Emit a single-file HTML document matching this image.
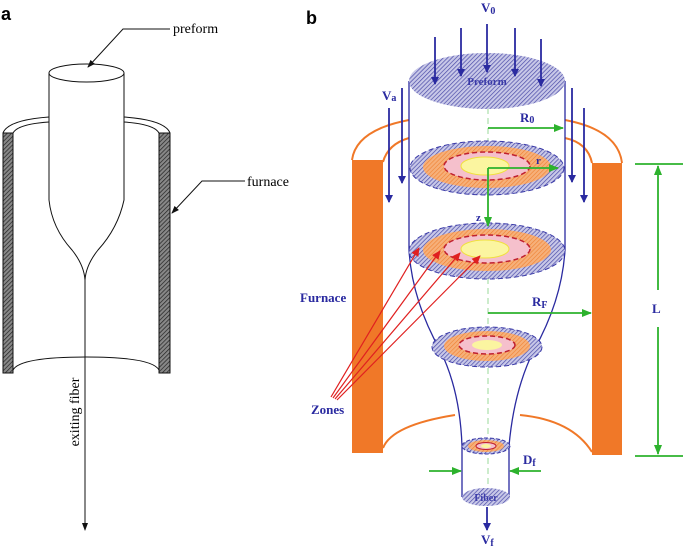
<!DOCTYPE html>
<html><head><style>body{margin:0;background:#fff}svg{display:block}</style></head><body>
<svg width="685" height="549" viewBox="0 0 685 549" xmlns="http://www.w3.org/2000/svg">
<defs>
<pattern id="hb" width="3" height="3" patternUnits="userSpaceOnUse" patternTransform="rotate(45)"><rect width="3" height="3" fill="#c8c8e8"/><line x1="0" y1="0" x2="0" y2="3" stroke="#4a4aa8" stroke-width="1.4"/></pattern>
<pattern id="ho" width="3" height="3" patternUnits="userSpaceOnUse" patternTransform="rotate(45)"><rect width="3" height="3" fill="#f6b07a"/><line x1="0" y1="0" x2="0" y2="3" stroke="#f08030" stroke-width="1.2"/></pattern>
<pattern id="hk" width="3" height="3" patternUnits="userSpaceOnUse" patternTransform="rotate(45)"><rect width="3" height="3" fill="#888"/><line x1="0" y1="0" x2="0" y2="3" stroke="#222" stroke-width="1.4"/></pattern>
<marker id="ak" markerWidth="8" markerHeight="8" refX="7" refY="4" orient="auto" markerUnits="userSpaceOnUse"><path d="M0,1 L8,4 L0,7z" fill="#111"/></marker>
<marker id="ab" markerWidth="8" markerHeight="10" refX="7" refY="5" orient="auto" markerUnits="userSpaceOnUse"><path d="M0,1 L8,5 L0,9z" fill="#2a2aa0"/></marker>
<marker id="ag" markerWidth="10" markerHeight="8" refX="9" refY="4" orient="auto" markerUnits="userSpaceOnUse"><path d="M0,0 L10,4 L0,8z" fill="#2db22d"/></marker>
<marker id="ar" markerWidth="9" markerHeight="8" refX="8" refY="4" orient="auto" markerUnits="userSpaceOnUse"><path d="M0,0 L9,4 L0,8z" fill="#e02020"/></marker>
</defs>
<!-- Panel a -->
<text x="1" y="20" font-family="Liberation Sans" font-weight="bold" font-size="18">a</text>
<g stroke="#111" fill="none" stroke-width="1">
<rect x="3" y="133" width="10" height="240" fill="url(#hk)"/>
<rect x="159" y="133" width="11" height="240" fill="url(#hk)"/>
<path d="M3,133 Q8,120 49,117 M13,133 Q18,124 49,122 M124,117 Q165,120 170,133 M124,122 Q154,124 159,133"/>
<path d="M13,370 Q20,357 86,357 Q152,357 159,370"/>
<ellipse cx="86.5" cy="73" rx="37.5" ry="9" fill="#fff"/>
<path d="M49,73 L49,200 Q52,228 72,250 Q84,265 85,280 Q86,265 98,250 Q118,228 124,200 L124,73"/>
<line x1="85" y1="280" x2="85" y2="530" marker-end="url(#ak)"/>
<path d="M170,29 L123,29 L88,67" marker-end="url(#ak)"/>
<path d="M245,181 L202,181 L172,213" marker-end="url(#ak)"/>
</g>
<rect x="64" y="368" width="20" height="84" fill="#fff"/>
<line x1="85" y1="370" x2="85" y2="450" stroke="#111"/>
<text transform="translate(79,412) rotate(-90)" text-anchor="middle" font-family="Liberation Serif" font-size="14">exiting fiber</text>
<text x="173" y="33" font-family="Liberation Serif" font-size="14">preform</text>
<text x="247" y="186" font-family="Liberation Serif" font-size="14">furnace</text>
<!-- Panel b -->
<text x="306" y="24" font-family="Liberation Sans" font-weight="bold" font-size="18">b</text>
<!-- furnace -->
<g stroke="#f07828" stroke-width="2" fill="none">
<path d="M352,160 Q356,130 409,120 M383,162 Q388,144 409,138 M565,120 Q618,130 622,163 M565,138 Q588,143 592,163"/>
<path d="M383,448 Q392,425 455,415 M520,415 Q572,420 592,452"/>
</g>
<rect x="352" y="160" width="31" height="293" fill="#f07828"/>
<rect x="592" y="163" width="30" height="292" fill="#f07828"/>
<!-- body -->
<g stroke="#2a2aa0" stroke-width="1.3" fill="none">
<path d="M409,81 L409,250 Q412,300 440,350 Q460,390 462,446 L462,497"/>
<path d="M565,81 L565,250 Q562,300 534,350 Q514,390 509,446 L509,497"/>
</g>
<line x1="488" y1="108" x2="488" y2="500" stroke="#9ada9a" stroke-dasharray="6,4"/>
<ellipse cx="487" cy="81" rx="78" ry="28" fill="url(#hb)"/>
<text x="487" y="85" text-anchor="middle" font-family="Liberation Serif" font-weight="bold" font-size="11" fill="#3a3aa8">Preform</text>
<g id="d">
<ellipse cx="487" cy="168" rx="77" ry="27" fill="url(#hb)" stroke="#3a3aa8" stroke-dasharray="5,3"/>
<ellipse cx="487" cy="167" rx="64" ry="21" fill="url(#ho)"/>
<ellipse cx="487" cy="166" rx="43" ry="14" fill="#f5c0cc" stroke="#c02030" stroke-dasharray="5,3" stroke-width="1.5"/>
<ellipse cx="485" cy="166" rx="24" ry="9" fill="#fbf5a0" stroke="#f0e040"/>
</g>
<g transform="translate(0,83)">
<ellipse cx="487" cy="168" rx="78" ry="28" fill="url(#hb)" stroke="#3a3aa8" stroke-dasharray="5,3"/>
<ellipse cx="487" cy="167" rx="64" ry="21" fill="url(#ho)"/>
<ellipse cx="487" cy="166" rx="43" ry="14" fill="#f5c0cc" stroke="#c02030" stroke-dasharray="5,3" stroke-width="1.5"/>
<ellipse cx="485" cy="166" rx="24" ry="9" fill="#fbf5a0" stroke="#f0e040"/>
</g>
<g>
<ellipse cx="487" cy="347" rx="55" ry="20" fill="url(#hb)" stroke="#3a3aa8" stroke-dasharray="5,3"/>
<ellipse cx="487" cy="346" rx="43" ry="15" fill="url(#ho)"/>
<ellipse cx="487" cy="345" rx="28" ry="9" fill="#f5c0cc" stroke="#c02030" stroke-dasharray="5,3" stroke-width="1.5"/>
<ellipse cx="487" cy="345" rx="15" ry="5" fill="#fbf5a0"/>
</g>
<g>
<ellipse cx="486" cy="446" rx="24" ry="8" fill="url(#hb)" stroke="#3a3aa8" stroke-dasharray="4,2"/>
<ellipse cx="486" cy="446" rx="18" ry="6" fill="url(#ho)"/>
<ellipse cx="486" cy="446" rx="10" ry="3.5" fill="#f5c0cc" stroke="#c02030"/>
<ellipse cx="486" cy="446" rx="5" ry="2" fill="#fbf5a0"/>
</g>
<ellipse cx="486" cy="497" rx="24" ry="9" fill="url(#hb)"/>
<text x="486" y="501" text-anchor="middle" font-family="Liberation Serif" font-weight="bold" font-size="10" fill="#3a3aa8">Fiber</text>
<!-- blue arrows -->
<g stroke="#2a2aa0" stroke-width="1.8" marker-end="url(#ab)">
<line x1="435" y1="37" x2="435" y2="84"/><line x1="461" y1="28" x2="461" y2="76"/><line x1="487" y1="24" x2="487" y2="72"/><line x1="515" y1="28" x2="515" y2="76"/><line x1="541" y1="39" x2="541" y2="86"/>
<line x1="402" y1="88" x2="402" y2="183"/><line x1="389" y1="108" x2="389" y2="202"/>
<line x1="572" y1="88" x2="572" y2="182"/><line x1="584" y1="108" x2="584" y2="202"/>
<line x1="487" y1="507" x2="487" y2="530"/>
</g>
<!-- green -->
<g stroke="#2db22d" stroke-width="1.8" fill="none">
<line x1="488" y1="128" x2="563" y2="128" marker-end="url(#ag)"/>
<line x1="488" y1="168" x2="558" y2="168" marker-end="url(#ag)"/>
<line x1="488" y1="168" x2="488" y2="226" marker-end="url(#ag)"/>
<line x1="488" y1="313" x2="591" y2="313" marker-end="url(#ag)"/>
<line x1="635" y1="164" x2="683" y2="164"/><line x1="635" y1="456" x2="683" y2="456"/>
<line x1="658" y1="290" x2="658" y2="166" marker-end="url(#ag)"/>
<line x1="658" y1="327" x2="658" y2="454" marker-end="url(#ag)"/>
<line x1="429" y1="471" x2="461" y2="471" marker-end="url(#ag)"/>
<line x1="541" y1="471" x2="510" y2="471" marker-end="url(#ag)"/>
</g>
<!-- red -->
<g stroke="#e02020" stroke-width="1.2">
<line x1="331" y1="397" x2="419" y2="248" marker-end="url(#ar)"/>
<line x1="333" y1="398" x2="440" y2="251" marker-end="url(#ar)"/>
<line x1="335" y1="399" x2="460" y2="253" marker-end="url(#ar)"/>
<line x1="337" y1="400" x2="480" y2="256" marker-end="url(#ar)"/>
</g>
<g font-family="Liberation Serif" font-weight="bold" fill="#2a2aa0" font-size="13">
<text x="481" y="12">V<tspan font-size="10" dy="2">0</tspan></text>
<text x="382" y="100">V<tspan font-size="10" dy="1">a</tspan></text>
<text x="520" y="122">R<tspan font-size="10" dy="1">0</tspan></text>
<text x="536" y="164" font-size="11">r</text>
<text x="476" y="221" font-size="11">z</text>
<text x="532" y="306">R<tspan font-size="10" dy="2">F</tspan></text>
<text x="652" y="313">L</text>
<text x="523" y="464">D<tspan font-size="10" dy="2">f</tspan></text>
<text x="481" y="544">V<tspan font-size="10" dy="2">f</tspan></text>
<text x="300" y="302">Furnace</text>
<text x="311" y="414">Zones</text>
</g>
</svg>
</body></html>
